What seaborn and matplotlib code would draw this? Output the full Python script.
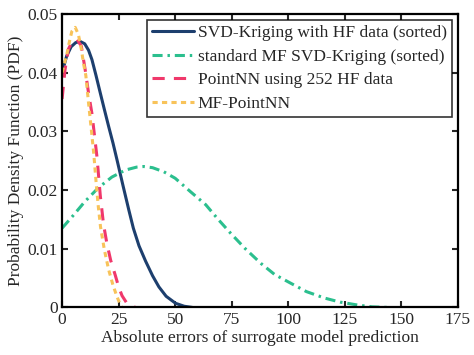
import matplotlib
matplotlib.use("Agg")
import matplotlib.pyplot as plt
import seaborn as sns
import pandas as pd

# values
svd_x = [0, 1, 2, 4, 6, 8, 10, 11.7, 13.2, 15, 16.9, 18.7, 20.6, 22.5, 24.3,
         26.9, 29.5, 31.5, 34, 36.9, 40, 42.8, 46, 50.2, 54, 57.6]
svd_y = [0.0402, 0.0414, 0.0428, 0.0444, 0.0451, 0.0453, 0.0449, 0.0438, 0.0422,
         0.0395, 0.0365, 0.0337, 0.0308, 0.0280, 0.0251, 0.0208, 0.0166, 0.0135,
         0.0105, 0.0079, 0.0054, 0.0035, 0.0019, 0.0007, 0.0002, 0.0]

mf_x = [0, 5, 10, 16.1, 22, 28, 33, 36.1, 40, 45, 50, 56.8, 63.5, 69, 74.6, 81,
        87.9, 94, 101.2, 108, 116, 123, 130.8, 137, 144]
mf_y = [0.0135, 0.0157, 0.0180, 0.0204, 0.0222, 0.0234, 0.0239, 0.0240, 0.0238,
        0.0231, 0.0220, 0.0197, 0.0175, 0.0150, 0.0126, 0.0100, 0.0075, 0.0056,
        0.0041, 0.0027, 0.0016, 0.0009, 0.0004, 0.0001, 0.0]

pnn_x = [0, 1.3, 2.8, 4.5, 6.7, 8.5, 10.2, 11.7, 13.2, 15.4, 16.9, 18.3, 19.8,
         21.5, 23.5, 25, 26.5, 28.5, 30.5, 32.4]
pnn_y = [0.0355, 0.0405, 0.0440, 0.0453, 0.0456, 0.0445, 0.0405, 0.0365, 0.0330,
         0.0257, 0.0190, 0.0142, 0.0109, 0.0080, 0.0055, 0.0035, 0.0020, 0.0008,
         0.0003, 0.0]

mfp_x = [0, 1, 2.1, 3.2, 4.3, 5.8, 7.2, 8.5, 9.5, 10.5, 11.7, 13, 14, 15, 16, 17,
         18.7, 20.6, 22.5, 24.3, 25.5, 26.5]
mfp_y = [0.0400, 0.0415, 0.0431, 0.0452, 0.0470, 0.0477, 0.0465, 0.0440, 0.0415,
         0.0395, 0.0348, 0.0300, 0.0262, 0.0215, 0.0172, 0.0137, 0.0098, 0.0064,
         0.0038, 0.0018, 0.0007, 0.0]

labels = ["SVD-Kriging with HF data (sorted)", "standard MF SVD-Kriging (sorted)",
          "PointNN using 252 HF data", "MF-PointNN"]
x_ticks = [0, 25, 50, 75, 100, 125, 150, 175]
y_ticks = [0, 0.01, 0.02, 0.03, 0.04, 0.05]
y_tick_labels = ["0", "0.01", "0.02", "0.03", "0.04", "0.05"]

curves = [
    (svd_x, svd_y, "#1d3f6e", "-"),
    (mf_x, mf_y, "#2bbf8e", (0, (3.3, 1.6, 0.8, 1.6))),
    (pnn_x, pnn_y, "#f0386b", (0, (4, 3))),
    (mfp_x, mfp_y, "#f8c35a", (0, (1.7, 1.4))),
]

sns.set_style("ticks")
plt.rcParams["font.family"] = ["Liberation Serif", "DejaVu Serif"]
plt.rcParams["xtick.direction"] = "in"
plt.rcParams["ytick.direction"] = "in"

fig = plt.figure(figsize=(4.74, 3.55), dpi=100)
ax = fig.add_axes([0.131, 0.134, 0.835, 0.827])

for (xs, ys, color, ls), lab in zip(curves, labels):
    df = pd.DataFrame({"x": xs, "y": ys})
    sns.lineplot(data=df, x="x", y="y", ax=ax, color=color, linestyle=ls,
                 linewidth=2.2, label=lab, sort=False)

ax.set_xlim(0, 175)
ax.set_ylim(0, 0.05)
ax.set_xticks(x_ticks)
ax.set_yticks(y_ticks)
ax.set_yticklabels(y_tick_labels)
ax.tick_params(axis="both", labelsize=12.5, width=1.5, length=4,
               top=True, right=True, pad=3)
for s in ax.spines.values():
    s.set_linewidth(1.6)
    s.set_color("black")
ax.set_xlabel("Absolute errors of surrogate model prediction", fontsize=12.5, labelpad=2)
ax.set_ylabel("Probability Density Function (PDF)", fontsize=12.5, labelpad=3)

leg = ax.legend(loc="upper right", fontsize=12.5, frameon=True, fancybox=False,
                handlelength=2.4, handletextpad=0.2, borderaxespad=0.35,
                borderpad=0.3, labelspacing=0.42)
leg.get_frame().set_edgecolor("black")
leg.get_frame().set_linewidth(1.2)

fig.savefig("out.png", dpi=100)
